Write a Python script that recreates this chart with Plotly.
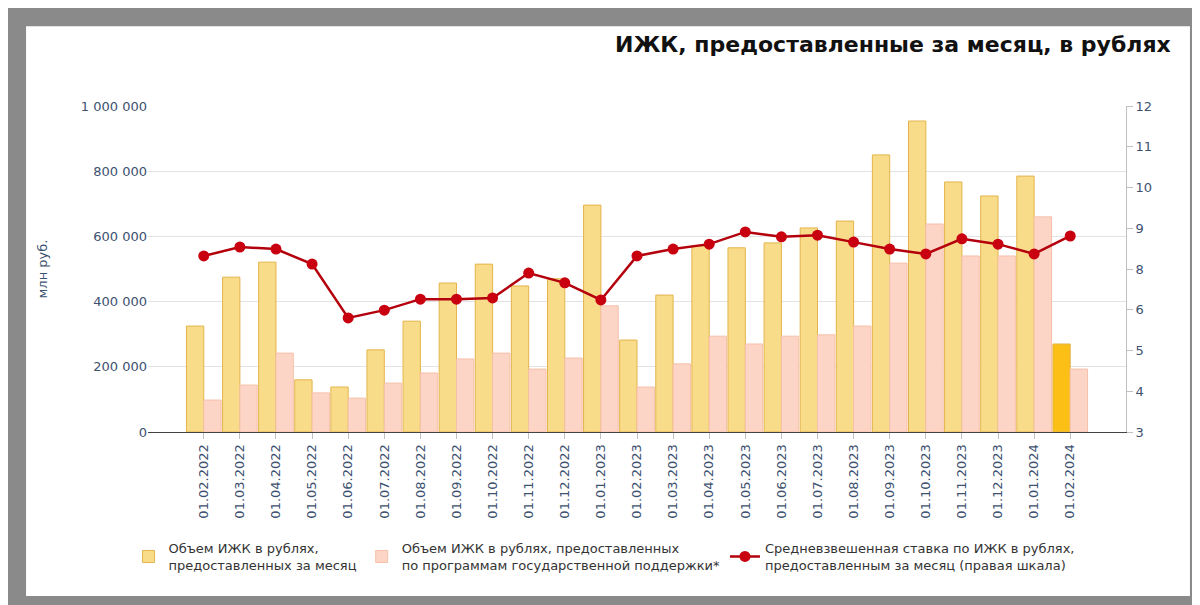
import plotly.graph_objects as go

months = ["01.02.2022", "01.03.2022", "01.04.2022", "01.05.2022", "01.06.2022", "01.07.2022",
          "01.08.2022", "01.09.2022", "01.10.2022", "01.11.2022", "01.12.2022", "01.01.2023",
          "01.02.2023", "01.03.2023", "01.04.2023", "01.05.2023", "01.06.2023", "01.07.2023",
          "01.08.2023", "01.09.2023", "01.10.2023", "01.11.2023", "01.12.2023", "01.01.2024",
          "01.02.2024"]
total_volume = [325000, 475000, 521000, 160000, 138000, 252000, 340000, 457000, 515000, 448000,
                470000, 696000, 282000, 420000, 570000, 565000, 580000, 626000, 647000, 850000,
                954000, 767000, 724000, 785000, 270000]
gov_volume = [98000, 144000, 242000, 120000, 104000, 150000, 181000, 224000, 242000, 193000,
              227000, 387000, 138000, 209000, 294000, 270000, 294000, 298000, 325000, 518000,
              638000, 540000, 540000, 660000, 193000]
# rate in right-axis units (axis labels as printed in the original)
rate = [7.32, 7.54, 7.49, 7.12, 5.80, 5.99, 6.26, 6.26, 6.29, 6.90, 6.66, 6.24, 7.32, 7.49,
        7.61, 7.91, 7.79, 7.83, 7.66, 7.49, 7.37, 7.74, 7.61, 7.37, 7.81]
right_ticks = [3, 4, 5, 6, 7, 8, 9, 10, 11]
right_labels = ["3", "4", "5", "6", "8", "9", "10", "11", "12"]
left_ticks = [0, 200000, 400000, 600000, 800000, 1000000]
left_labels = ["0", "200 000", "400 000", "600 000", "800 000", "1 000 000"]

yellow = ["#f9dc8a"] * (len(months) - 1) + ["#fbbf16"]

fig = go.Figure()
fig.add_trace(go.Bar(x=months, y=total_volume, name="Объем ИЖК в рублях,<br>предоставленных за месяц",
                     marker=dict(color=yellow, line=dict(color="#e3b44a", width=1))))
fig.add_trace(go.Bar(x=months, y=gov_volume,
                     name="Объем ИЖК в рублях, предоставленных<br>по программам государственной поддержки*",
                     marker=dict(color="#fdd5c6", line=dict(color="#f6c0aa", width=1))))
fig.add_trace(go.Scatter(x=months, y=rate, yaxis="y2", mode="lines+markers",
                         name="Средневзвешенная ставка по ИЖК в рублях,<br>предоставленным за месяц (правая шкала)",
                         line=dict(color="#b3000c", width=2.5),
                         marker=dict(color="#c8000f", size=11)))

tick_font = dict(family="DejaVu Sans", size=13, color="#3d5170")
fig.update_layout(
    width=1200, height=605,
    margin=dict(l=140, r=82, t=98, b=181),
    paper_bgcolor="#8a8a8a", plot_bgcolor="white",
    barmode="group", bargap=0.04, bargroupgap=0,
    font=dict(family="DejaVu Sans", color="#333"),
    xaxis=dict(tickangle=-90, tickfont=tick_font, showgrid=False, showline=True, automargin=False,
               linecolor="#444", ticks="outside", ticklen=6, tickcolor="#c0c0c0"),
    yaxis=dict(range=[0, 1000000], tickvals=left_ticks, ticktext=left_labels, tickfont=tick_font,
               gridcolor="#e3e3e3", zeroline=False, automargin=False,
               title=dict(text="млн руб.", font=tick_font, standoff=30)),
    yaxis2=dict(overlaying="y", side="right", range=[3, 11], tickvals=right_ticks, ticktext=right_labels,
                tickfont=tick_font, showgrid=False, showline=True, linecolor="#c0c0c0", automargin=False,
                ticks="outside", ticklen=6, tickcolor="#c0c0c0"),
    legend=dict(orientation="h", x=-0.02, y=-0.31, yanchor="top", xanchor="left",
                font=dict(family="DejaVu Sans", size=13, color="#333"), bgcolor="rgba(0,0,0,0)"),
    shapes=[dict(type="rect", xref="paper", yref="paper", x0=-0.1247, x1=1.0654, y0=-0.503, y1=1.245,
                 fillcolor="white", line=dict(width=0), layer="below")],
    annotations=[dict(text="<b>ИЖК, предоставленные за месяц, в рублях</b>", xref="paper", yref="paper",
                      x=1.048, y=1.19, xanchor="right", yanchor="middle", showarrow=False,
                      font=dict(family="DejaVu Sans", size=22, color="#111"))],
)
fig.write_html("out.html")
